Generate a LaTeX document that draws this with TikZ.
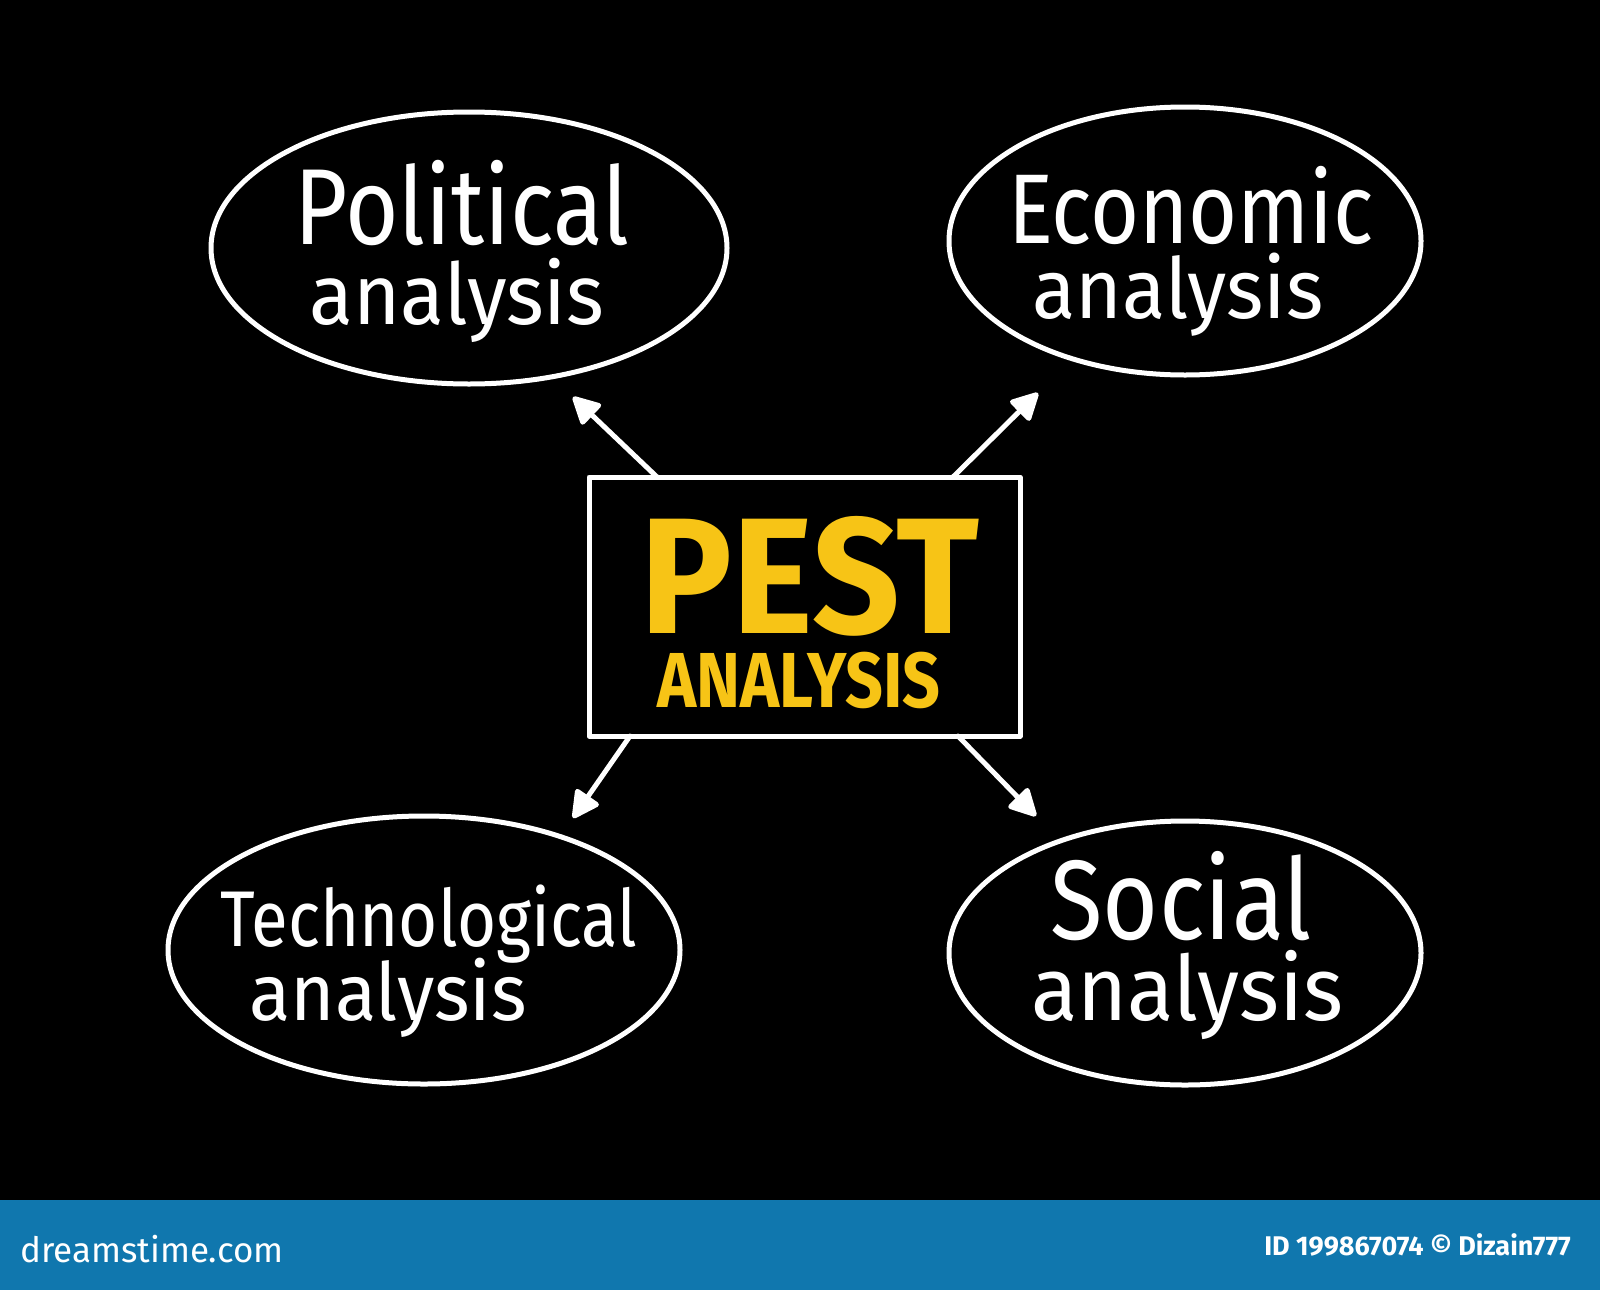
\documentclass[tikz,border=0pt]{standalone}
\usepackage{fontspec}
\setmainfont{Fira Sans}
\newfontfamily\hand[FakeStretch=0.85]{Fira Sans}
\newfontfamily\handw[FakeStretch=0.95]{Fira Sans}
\newfontfamily\handp[FakeStretch=0.93]{Fira Sans}
\usetikzlibrary{shapes.geometric,arrows.meta}
\definecolor{pestyellow}{RGB}{247,196,22}
\definecolor{barblue}{RGB}{16,119,174}
\begin{document}
\begin{tikzpicture}[x=1pt,y=-1pt,
  chalk/.style={draw=white,line width=5pt,line cap=round,line join=round},
  oval/.style={chalk,ellipse,inner sep=0pt},
  lbl/.style={text=white,anchor=base,inner sep=0pt},
  flat/.style={text depth=0pt},
  arr/.style={chalk,-{Triangle[length=30pt,width=30pt,round]}},
]
\useasboundingbox (0,0) rectangle (1600,1290);
\fill[black] (0,0) rectangle (1600,1290);
\fill[barblue] (0,1200) rectangle (1600,1290);

% ellipses
\node[oval,minimum width=516pt,minimum height=272pt] (pol) at (469,248) {};
\node[oval,minimum width=472pt,minimum height=268pt] (eco) at (1185,241) {};
\node[oval,minimum width=512pt,minimum height=268pt] (tec) at (424,950) {};
\node[oval,minimum width=472pt,minimum height=264pt] (soc) at (1185,953) {};

% centre box
\node[chalk,minimum width=431pt,minimum height=259pt,inner sep=0pt] (rect) at (804.5,606.5) {};

% labels
\node[lbl,flat,font=\hand\fontsize{108}{108}\selectfont] (pol1) at (462,244) {Political};
\node[lbl,font=\handw\fontsize{85}{85}\selectfont] (pol2) at (457,324) {analysis};
\node[lbl,flat,font=\hand\fontsize{99}{99}\selectfont] (eco1) at (1191,243) {Economic};
\node[lbl,font=\handw\fontsize{84}{84}\selectfont] (eco2) at (1178,318) {analysis};
\node[lbl,font=\hand\fontsize{79}{79}\selectfont] (tec1) at (429,946) {Technological};
\node[lbl,font=\handw\fontsize{80}{80}\selectfont] (tec2) at (388,1020) {analysis};
\node[lbl,flat,font=\hand\fontsize{113}{113}\selectfont] (soc1) at (1181,939) {Social};
\node[lbl,font=\handw\fontsize{90}{90}\selectfont] (soc2) at (1187,1020) {analysis};

\node[lbl,flat,text=pestyellow,font=\handp\bfseries\fontsize{165}{165}\selectfont] (pest) at (810,633) {PEST};
\node[lbl,flat,text=pestyellow,font=\hand\bfseries\fontsize{78}{78}\selectfont] (ana) at (799,707) {ANALYSIS};

% connectors
\coordinate (s1) at (657,477);
\coordinate (t1) at (573,397);
\coordinate (s2) at (953,477);
\coordinate (t2) at (1038,393);
\coordinate (s3) at (630,736);
\coordinate (t3) at (573,818);
\coordinate (s4) at (958,736);
\coordinate (t4) at (1036,816);
\draw[arr] (s1) -- (t1);
\draw[arr] (s2) -- (t2);
\draw[arr] (s3) -- (t3);
\draw[arr] (s4) -- (t4);

% footer
\node[lbl,anchor=base west,font=\fontsize{35}{35}\selectfont] (ds) at (20,1262) {dreamstime.com};
\node[lbl,anchor=base east,font=\bfseries\fontsize{27}{27}\selectfont] (id) at (1571,1255) {ID 199867074 © Dizain777};
\end{tikzpicture}
\end{document}
